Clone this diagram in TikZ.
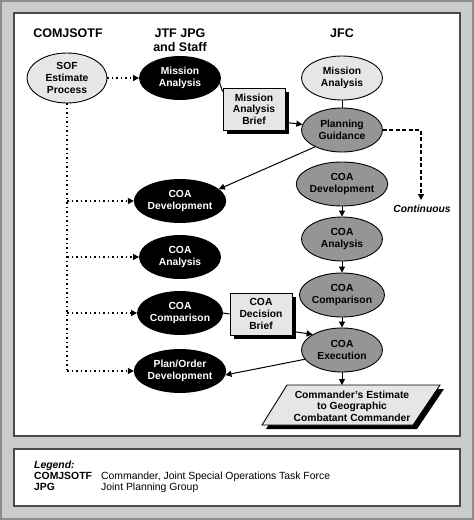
\documentclass[tikz,border=0pt]{standalone}
\usepackage{fontspec}
\setmainfont{Liberation Sans}
\usetikzlibrary{shapes.geometric,arrows.meta,shadows}
\definecolor{bggray}{HTML}{CBCBCB}
\definecolor{frame}{HTML}{4A4A4A}
\definecolor{lightfill}{HTML}{E6E6E6}
\definecolor{darkfill}{HTML}{959595}
\tikzset{
  oval/.style={ellipse, draw=black, line width=0.9pt, inner sep=0pt, align=center,
    font=\fontsize{10.3}{11.8}\selectfont\bfseries, minimum width=81, minimum height=43},
  ovlight/.style={oval, fill=lightfill},
  ovdark/.style={oval, fill=darkfill},
  ovblack/.style={oval, fill=black, text=white},
  briefbox/.style={rectangle, draw=black, line width=0.9pt, fill=lightfill, align=center,
    font=\fontsize{10.3}{11.6}\selectfont\bfseries, minimum width=62, minimum height=42, inner sep=0pt,
    drop shadow={shadow xshift=4pt, shadow yshift=-4pt, fill=black, opacity=1}},
  header/.style={font=\fontsize{12.5}{14}\selectfont\bfseries, align=center, inner sep=0pt},
  conn/.style={line width=1pt, draw=black},
  arr/.style={conn, -{Triangle[length=6pt,width=6pt]}},
  dotline/.style={line width=1.5pt, dash pattern=on 1.5pt off 3pt},
  dotarr/.style={dotline, -{Triangle[length=6pt,width=6pt]}},
  dashline/.style={line width=1.3pt, dash pattern=on 4pt off 2.5pt, -{Triangle[length=6pt,width=6pt]}},
  legtext/.style={font=\fontsize{10.4}{12}\selectfont, anchor=base west, inner sep=0pt},
}
\begin{document}
\begin{tikzpicture}[x=1pt,y=-1pt]
\useasboundingbox (0,0) rectangle (474,520);
\fill[bggray] (0,0) rectangle (474,520);
\draw[black!45, line width=2pt] (1,1) rectangle (473,519);
\draw[frame, line width=1.3pt, fill=white] (14,13) rectangle (460,436);
\draw[frame, line width=1.3pt, fill=white] (14,449) rectangle (460,506);

% headers
\node[header] (h1) at (68,33) {COMJSOTF};
\node[header] (h2) at (180,40) {JTF JPG\\and Staff};
\node[header] (h3) at (342,33) {JFC};

% column 1
\node[ovlight, minimum width=80, minimum height=50] (sof) at (67,78) {SOF\\Estimate\\Process};

% column 2
\node[ovblack] (ma) at (180,78) {Mission\\Analysis};
\node[ovblack] (cdl) at (180,201) {COA\\Development};
\node[ovblack] (cal) at (180,257) {COA\\Analysis};
\node[ovblack] (ccl) at (180,313) {COA\\Comparison};
\node[ovblack] (pod) at (180,371) {Plan/Order\\Development};

% boxes
\node[briefbox] (mab) at (254,109) {Mission\\Analysis\\Brief};
\node[briefbox] (cdb) at (261,314) {COA\\Decision\\Brief};

% column 3
\node[ovlight, minimum height=44] (jma) at (342,78) {Mission\\Analysis};
\node[ovdark, minimum height=44] (pg) at (342,130) {Planning\\Guidance};
\node[ovdark, minimum height=44] (cd) at (342,184) {COA\\Development};
\node[ovdark, minimum height=44] (ca) at (342,239) {COA\\Analysis};
\node[ovdark, minimum height=44] (cc) at (342,295) {COA\\Comparison};
\node[ovdark, minimum height=44] (ce) at (342,350) {COA\\Execution};

% continuous
\coordinate (contend) at (421,200);
\node[font=\fontsize{10.3}{12}\selectfont\bfseries\itshape, inner sep=0pt] (cont) at (422,209) {Continuous};

% commander's estimate parallelogram
\coordinate (cetop) at (342,385);
\fill[black] (291,389) -- (444,389) -- (417,429) -- (266,429) -- cycle;
\draw[black, line width=0.9pt, fill=lightfill] (287,385) -- (440,385) -- (413,425) -- (262,425) -- cycle;
\node[align=center, font=\fontsize{10.3}{11.5}\selectfont\bfseries, inner sep=0pt] (est) at (352,406)
  {Commander's Estimate\\to Geographic\\Combatant Commander};

% connectors
\draw[dotarr] (sof.east) -- (ma.west);
\draw[dotline] (sof.south) -- (sof.south |- pod.west);
\draw[dotarr] (sof.south |- cdl.west) -- (cdl.west);
\draw[dotarr] (sof.south |- cal.west) -- (cal.west);
\draw[dotarr] (sof.south |- ccl.west) -- (ccl.west);
\draw[dotarr] (sof.south |- pod.west) -- (pod.west);

\draw[conn] (ma.20) -- (mab.151);
\draw[arr] (mab.-23) -- (pg.172);
\draw[conn] (jma.south) -- (pg.north);
\draw[arr] (pg.212) -- (cdl.17);
\draw[dashline] (pg.east) -| (contend);
\draw[arr] (cd.south) -- (ca.north);
\draw[arr] (ca.south) -- (cc.north);
\draw[arr] (cc.south) -- (ce.north);
\draw[conn] (ccl.east) -- (cdb.west);
\draw[arr] (cdb.-29) -- (ce.152);
\draw[arr] (ce.194) -- (pod.-5);
\draw[arr] (ce.south) -- (cetop);

% legend
\node[legtext, font=\fontsize{10.4}{12}\selectfont\bfseries\itshape] (lg) at (34,468) {Legend:};
\node[legtext, font=\fontsize{10.4}{12}\selectfont\bfseries] (l1) at (34,479) {COMJSOTF};
\node[legtext] (l1t) at (101,479) {Commander, Joint Special Operations Task Force};
\node[legtext, font=\fontsize{10.4}{12}\selectfont\bfseries] (l2) at (34,490) {JPG};
\node[legtext] (l2t) at (101,490) {Joint Planning Group};
\end{tikzpicture}
\end{document}
